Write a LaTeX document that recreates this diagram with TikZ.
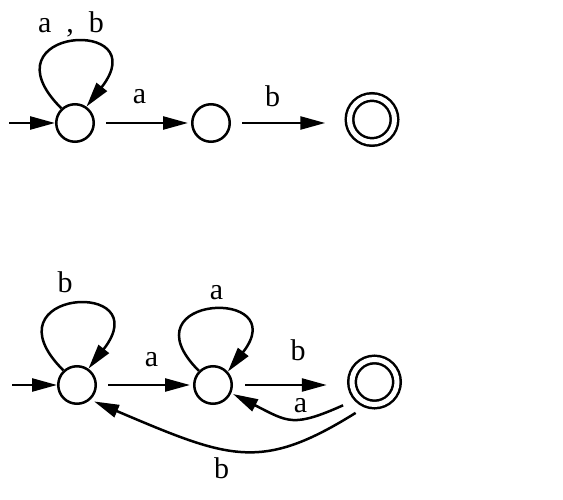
\documentclass[tikz,border=0pt]{standalone}
\usepackage{fontspec}
\setmainfont{Liberation Serif}
\usetikzlibrary{arrows.meta}
\begin{document}
\begin{tikzpicture}[x=1pt, y=1pt,
  state/.style={circle, draw=black, line width=2.5pt, minimum size=37.5pt, inner sep=0pt},
  accept/.style={circle, draw=black, line width=2.5pt, double, double distance=5pt, minimum size=45pt, inner sep=0pt},
  lbl/.style={anchor=base, inner sep=0pt, font=\fontsize{30}{36}\selectfont}]

\useasboundingbox (0,0) rectangle (563,499);

%% upper automaton
\coordinate (s0) at (9,376);
\node at (75,376) [state] (p0) {};
\node at (211,376) [state] (p1) {};
\node at (372,379.5) [accept] (p2) {};

\node at (71,466) [lbl] (lp00) {a\ \ ,\ \ b};
\node at (139.5,395) [lbl] (lp01) {a};
\node at (272.5,392) [lbl] (lp12) {b};

%% lower automaton
\coordinate (s1) at (12,114);
\node at (77,114) [state] (q0) {};
\node at (213,114) [state] (q1) {};
\node at (374.5,117) [accept] (q2) {};

\node at (65,206) [lbl] (lq00) {b};
\node at (216.5,200) [lbl] (lq11) {a};
\node at (151.5,132) [lbl] (lq01) {a};
\node at (298,139) [lbl] (lq12) {b};
\node at (300.5,87) [lbl] (lq21) {a};
\node at (221.5,21) [lbl] (lq20) {b};


\begin{scope}[>={Triangle[length=25pt,width=13pt]}, line width=2.5pt]
	\draw [->] (s0) -- (p0.west);
	\draw [->] (p0.133) .. controls +(135:115pt) and +(52:115pt) .. (p0.55);
	\draw [->, shorten <=11pt, shorten >=3pt] (p0.east) -- (p1.west);
	\draw [->, shorten <=11pt, shorten >=23pt] (p1.east) -- (p1.east -| p2.west);

	\draw [->] (s1) -- (q0.west);
	\draw [->] (q0.133) .. controls +(135:115pt) and +(52:115pt) .. (q0.55);
	\draw [->] (q1.135) .. controls +(135:108pt) and +(52:108pt) .. (q1.42);
	\draw [->, shorten <=11pt, shorten >=3pt] (q0.east) -- (q1.west);
	\draw [->, shorten <=12pt, shorten >=24pt] (q1.east) -- (q1.east -| q2.west);
	\draw [->, shorten <=16pt, shorten >=2pt] (q2.225) .. controls +(204:71pt) and +(-27:64pt) .. (q1.-24);
	\draw [->, shorten <=15pt, shorten >=4pt] (q2.255) .. controls +(212:127pt) and +(-23:151pt) .. (q0.-48);
\end{scope}

\end{tikzpicture}
\end{document}
